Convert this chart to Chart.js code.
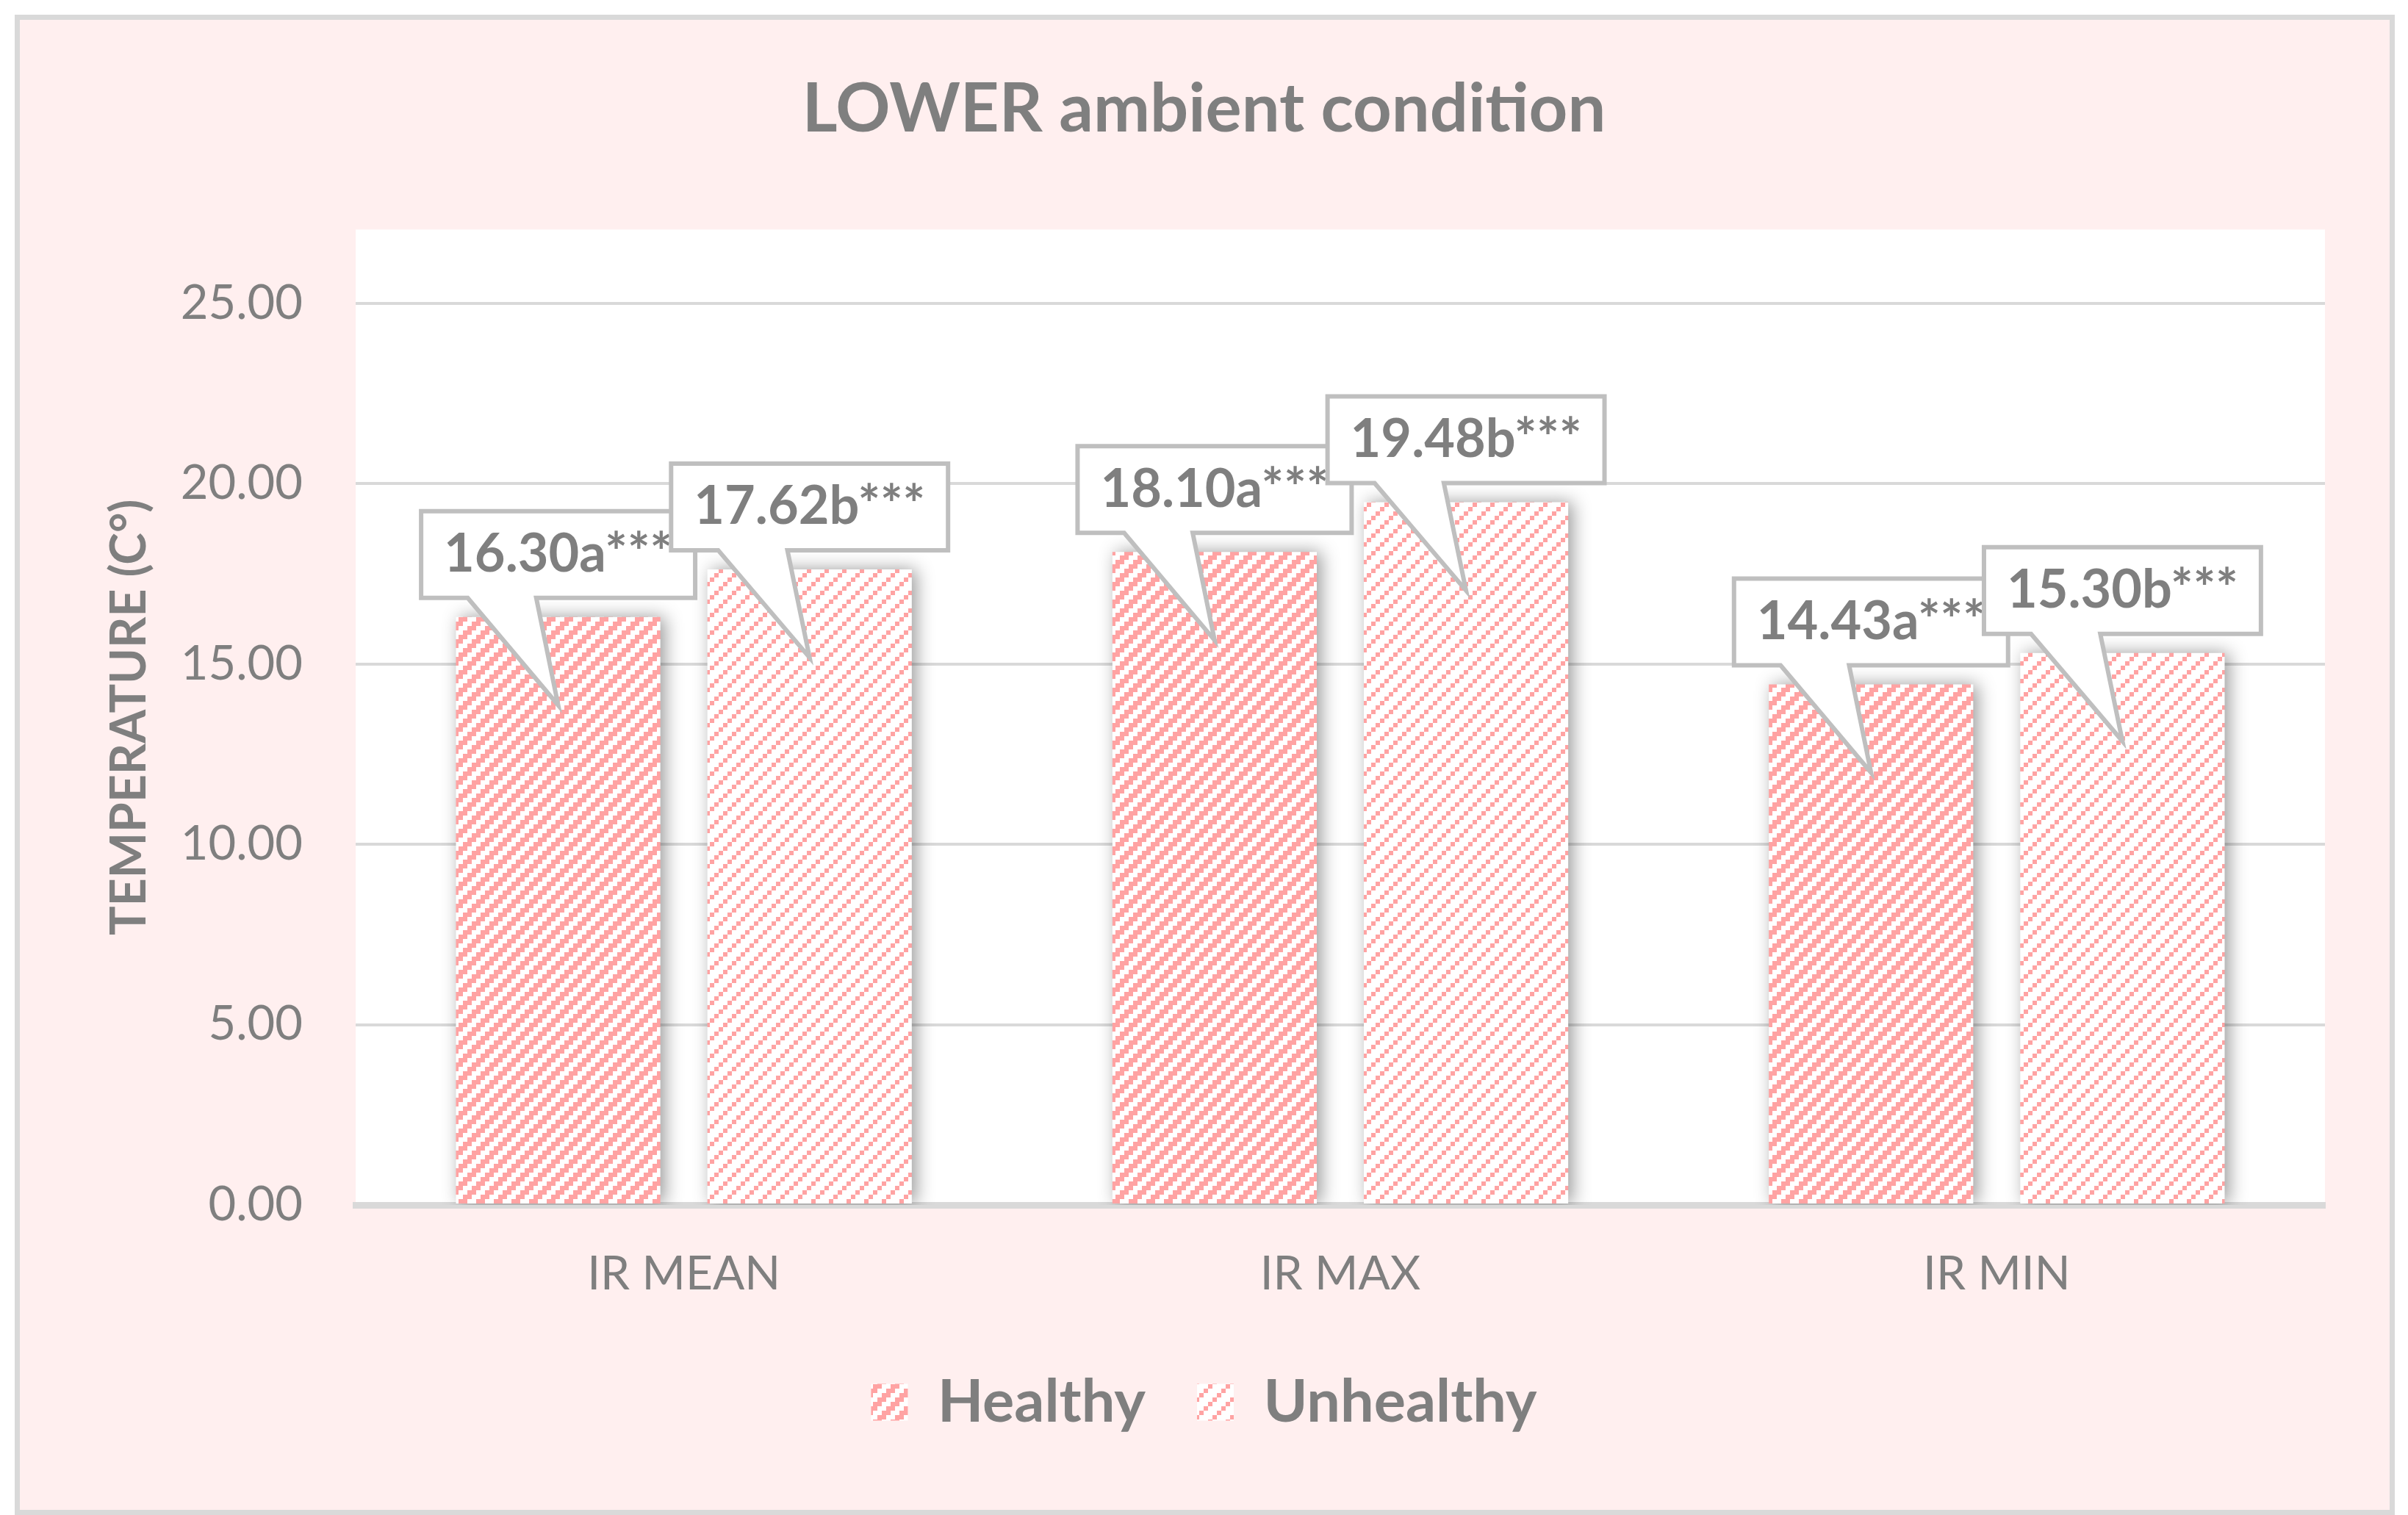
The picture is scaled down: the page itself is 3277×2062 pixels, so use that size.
<!DOCTYPE html>
<html>
<head>
<meta charset="utf-8">
<title>LOWER ambient condition</title>
<script src="https://cdn.jsdelivr.net/npm/chart.js@4.4.1/dist/chart.umd.min.js"></script>
<style>
  html, body { margin: 0; padding: 0; background: #fff; }
  canvas { display: block; }
</style>
</head>
<body>
<canvas id="chart" width="3277" height="2062"></canvas>
<script>
// Dados do gráfico
const categorias = ['IR MEAN', 'IR MAX', 'IR MIN']
const healthy = [16.30, 18.10, 14.43]     // Healthy (°C)
const unhealthy = [17.62, 19.48, 15.30]   // Unhealthy (°C)
const letras = ['a', 'b']                 // letra de significância por série
const estrelas = '***'
const yTicks = [0, 5, 10, 15, 20, 25]

// Cores
const rosa = '#ffa3a3'
const cinzaTexto = '#7f7f7f'
const cinzaLinha = '#d9d9d9'

Chart.defaults.font.family = 'Lato'
Chart.defaults.color = cinzaTexto

// Hachuras (estilo Excel: diagonal escura / diagonal clara)
const hachura = (grossa) => {
  const px = 6, n = 4
  const c = document.createElement('canvas')
  c.width = c.height = px * n
  const g = c.getContext('2d')
  g.fillStyle = '#ffffff'
  g.fillRect(0, 0, c.width, c.height)
  g.fillStyle = rosa
  for (let r = 0; r < n; r++) {
    for (let k = 0; k < n; k++) {
      const m = (k + r) % n
      if (grossa ? m < 2 : m === 0) g.fillRect(k * px, r * px, px, px)
    }
  }
  return g.createPattern(c, 'repeat')
}

// Fundo rosa com moldura e área de plotagem branca
const fundo = {
  id: 'fundo',
  beforeDraw(chart) {
    const { ctx, chartArea: a, width: w, height: h } = chart
    ctx.save()
    ctx.fillStyle = '#ffffff'
    ctx.fillRect(0, 0, w, h)
    ctx.fillStyle = '#ffefef'
    ctx.fillRect(20, 20, w - 38, h - 20)
    ctx.strokeStyle = cinzaLinha
    ctx.lineWidth = 7
    ctx.strokeRect(23.5, 23.5, w - 45, h - 27)
    ctx.fillStyle = '#ffffff'
    ctx.fillRect(a.left, a.top, a.right - a.left, a.bottom - a.top)
    ctx.restore()
  }
}

// Sombra das barras + balões com os valores
const baloes = {
  id: 'baloes',
  beforeDatasetsDraw(chart) {
    const ctx = chart.ctx
    ctx.save()
    ctx.shadowColor = 'rgba(0,0,0,0.4)'
    ctx.shadowBlur = 24
    ctx.shadowOffsetX = 6
  },
  afterDatasetsDraw(chart) {
    const ctx = chart.ctx
    ctx.restore()
    ctx.save()
    ctx.font = 'bold 72px Lato'
    chart.data.datasets.forEach((ds, i) => {
      chart.getDatasetMeta(i).data.forEach((bar, j) => {
        const txt = ds.data[j].toFixed(2) + letras[i] + estrelas
        const w = ctx.measureText(txt).width + 62
        const h = 118
        const x0 = bar.x - w / 2
        const y0 = bar.y - 26 - h
        ctx.beginPath()
        ctx.moveTo(x0, y0)
        ctx.lineTo(x0 + w, y0)
        ctx.lineTo(x0 + w, y0 + h)
        ctx.lineTo(x0 + w * 0.42, y0 + h)
        ctx.lineTo(bar.x, bar.y + 120)
        ctx.lineTo(x0 + w * 0.17, y0 + h)
        ctx.lineTo(x0, y0 + h)
        ctx.closePath()
        ctx.fillStyle = '#ffffff'
        ctx.fill()
        ctx.lineWidth = 6
        ctx.strokeStyle = '#bfbfbf'
        ctx.stroke()
        ctx.fillStyle = cinzaTexto
        ctx.textBaseline = 'middle'
        ctx.textAlign = 'left'
        ctx.fillText(txt, x0 + 31, y0 + h / 2)
      })
    })
    ctx.restore()
  }
}

let ctx = document.getElementById('chart')
let chart = new Chart(ctx, {
  type: 'bar',
  data: {
    labels: categorias,
    datasets: [{
      label: 'Healthy',
      data: healthy,
      backgroundColor: hachura(true),
      borderWidth: 0,
      categoryPercentage: 0.766,
      barPercentage: 0.813
    }, {
      label: 'Unhealthy',
      data: unhealthy,
      backgroundColor: hachura(false),
      borderWidth: 0,
      categoryPercentage: 0.766,
      barPercentage: 0.813
    }]
  },
  options: {
    responsive: false,
    animation: false,
    layout: { padding: { top: 0, right: 113, bottom: 103, left: 113 } },
    plugins: {
      title: {
        display: true,
        text: 'LOWER ambient condition',
        color: cinzaTexto,
        font: { size: 92, weight: 'bold' },
        padding: { top: 94, bottom: 108 }
      },
      legend: {
        position: 'bottom',
        labels: {
          color: cinzaTexto,
          font: { size: 81, weight: 'bold' },
          boxWidth: 50,
          boxHeight: 50,
          padding: 70
        }
      },
      tooltip: { enabled: false }
    },
    scales: {
      x: {
        grid: { display: false, drawTicks: false },
        border: { display: true, color: cinzaLinha, width: 9 },
        ticks: { color: cinzaTexto, font: { size: 64 }, padding: 56 },
        afterFit: (s) => { s.height = 158 }
      },
      y: {
        min: 0,
        max: 27.04,
        bounds: 'data',
        grid: { color: cinzaLinha, lineWidth: 4, drawTicks: false },
        border: { display: false },
        ticks: {
          color: cinzaTexto,
          font: { size: 65 },
          padding: 72,
          callback: (v) => v.toFixed(2)
        },
        afterBuildTicks: (s) => { s.ticks = yTicks.map(v => ({ value: v })) },
        title: {
          display: true,
          text: 'TEMPERATURE (C°)',
          color: cinzaTexto,
          font: { size: 66, weight: 'bold' },
          padding: { top: 24, bottom: 0 }
        },
        afterFit: (s) => { s.width = 371 }
      }
    }
  },
  plugins: [fundo, baloes]
})
</script>
</body>
</html>
